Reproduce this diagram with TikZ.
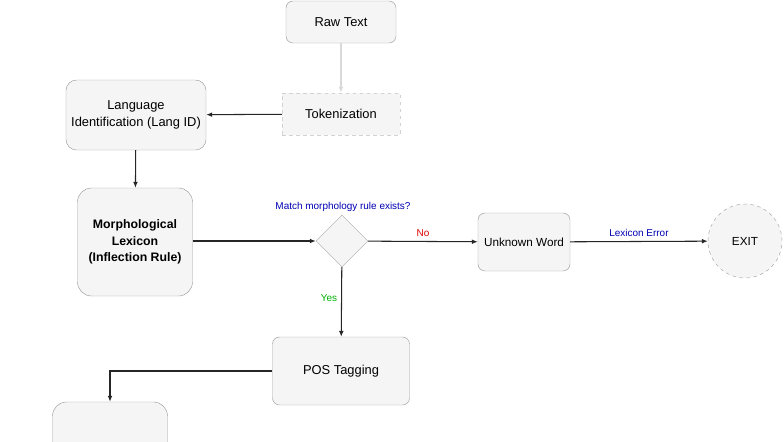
\documentclass[tikz,border=0pt]{standalone}
\usepackage{fontspec}
\setmainfont{Liberation Sans}
\usetikzlibrary{shapes.geometric,arrows.meta}

\begin{document}
\begin{tikzpicture}[x=0.03cm, y=-0.03cm,
    box/.style={draw=gray!75, fill=gray!8, rounded corners=6pt, align=center,
      font=\fontsize{11}{14}\selectfont, inner sep=2pt},
    faintbox/.style={draw=gray!35, dashed, fill=gray!8, align=center,
      font=\fontsize{11}{14}\selectfont},
    decision/.style={diamond, draw=gray!70, fill=gray!8, minimum width=52*0.03cm,
      minimum height=52*0.03cm, inner sep=0pt},
    flow/.style={draw=black!85, line width=0.9pt, -{Latex[length=5pt,width=4pt]}},
    lbl/.style={font=\fontsize{8.5}{10}\selectfont}]
  \useasboundingbox (0,0) rectangle (784,441);
  \clip (0,0) rectangle (784,441);

  % Top of the pipeline
  \node[box, minimum width=110*0.03cm, minimum height=42*0.03cm] (raw) at (341,22) {Raw Text};
  \node[faintbox, minimum width=118*0.03cm, minimum height=42*0.03cm] (tok) at (341,114) {Tokenization};
  \node[box, rounded corners=9pt, minimum width=140*0.03cm, minimum height=70*0.03cm, inner sep=0pt] (langid) at (136,115)
    {Language\\Identification (Lang ID)};

  % Lexicon lookup and decision
  \node[box, rounded corners=12pt, minimum width=115*0.03cm, minimum height=108*0.03cm, inner sep=0pt,
    font=\fontsize{10.5}{14}\selectfont\bfseries] (morph) at (135,242)
    {Morphological\\Lexicon\\(Inflection Rule)};
  \node[decision] (match) at (342,241) {};
  \node[lbl, text=blue!70!black] (matchq) at (343,207) {Match morphology rule exists?};

  % Failure branch
  \node[box, minimum width=92*0.03cm, minimum height=58*0.03cm, inner sep=0pt,
    font=\fontsize{10}{12}\selectfont] (unk) at (524,242) {Unknown Word};
  \node[circle, draw=gray!70, dashed, fill=gray!8, minimum size=74*0.03cm,
    font=\fontsize{10}{12}\selectfont] (exit) at (745,241) {EXIT};

  % Success branch
  \node[box, minimum width=137*0.03cm, minimum height=68*0.03cm] (pos) at (341,371) {POS Tagging};
  \node[box, rounded corners=12pt, minimum width=115*0.03cm, minimum height=110*0.03cm] (next) at (110,457) {};

  % Connectors
  \draw[flow, draw=gray!30] (raw) -- (tok);
  \draw[flow] (tok) -- (langid);
  \draw[flow] (langid) -- (morph);
  \draw[flow] (morph.east |- match) -- (match);
  \draw[flow] (match) -- node[lbl, text=red!85!black, above, pos=0.5] {No} (unk);
  \draw[flow] (unk) -- node[lbl, text=blue!70!black, above] {Lexicon Error} (exit);
  \draw[flow] (match) -- node[lbl, text=green!70!black, left, pos=0.45] {Yes} (pos);
  \draw[flow] (pos.west) -| (next.north);
\end{tikzpicture}
\end{document}
